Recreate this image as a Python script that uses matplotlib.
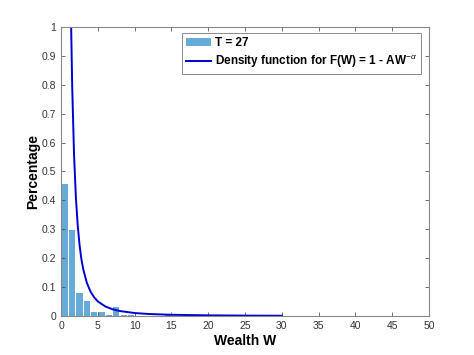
import matplotlib
matplotlib.use("Agg")
import matplotlib.pyplot as plt

plt.rcParams['font.family'] = ['Liberation Sans', 'DejaVu Sans']
plt.rcParams['mathtext.fontset'] = 'custom'
plt.rcParams['mathtext.rm'] = 'Liberation Sans'
plt.rcParams['mathtext.it'] = 'Liberation Sans:italic'

# histogram bins (centre of each bin of width 1) and share of agents
bin_centres = [0.5, 1.5, 2.5, 3.5, 4.5, 5.5, 6.5, 7.5, 8.5, 9.5, 10.5, 14.5, 19.5, 23.5]
bin_share = [0.455, 0.298, 0.079, 0.053, 0.014, 0.013, 0.005, 0.030, 0.004, 0.002,
             0.001, 0.002, 0.002, 0.004]

# density curve
curve_w = [1.36, 1.5, 1.75, 2.0, 2.25, 2.5, 2.75, 3.0, 3.5, 4.0, 4.5, 5.0, 6.0, 7.0,
           8.0, 10.0, 12.0, 15.0, 20.0, 25.0, 30.0]
curve_f = [1.0, 0.798, 0.56, 0.412, 0.314, 0.246, 0.197, 0.162, 0.114, 0.084, 0.064,
           0.050, 0.033, 0.023, 0.017, 0.010, 0.0067, 0.004, 0.0021, 0.0012, 0.0008]

fig = plt.figure(figsize=(4.74, 3.55), dpi=100)
ax = fig.add_axes([0.129, 0.110, 0.776, 0.814])

bars = ax.bar(bin_centres, bin_share, width=0.85, color='#66aad7', edgecolor='none')
line, = ax.plot(curve_w, curve_f, color='#0000d0', lw=1.4)

ax.set_xlim(0, 50)
ax.set_ylim(0, 1)
ax.set_xticks(range(0, 51, 5))
ax.set_yticks([i / 10 for i in range(11)])
ax.set_yticklabels(['0', '0.1', '0.2', '0.3', '0.4', '0.5', '0.6', '0.7', '0.8', '0.9', '1'])
ax.tick_params(direction='in', top=True, right=True, labelsize=7.5,
               colors='#555555', labelcolor='#333333', length=3, width=0.6)
for s in ax.spines.values():
    s.set_color('#888888')
    s.set_linewidth(0.8)

ax.set_xlabel('Wealth W', fontsize=10, fontweight='bold', labelpad=2)
ax.set_ylabel('Percentage', fontsize=10, fontweight='bold', labelpad=1)

leg = ax.legend([bars, line], ['T = 27', r'Density function for F(W) = 1 - AW$^{-\alpha}$'],
                loc='upper right', bbox_to_anchor=(0.978, 0.979), frameon=True,
                fancybox=False, borderaxespad=0.0, handlelength=2.1, handletextpad=0.35,
                borderpad=0.35, labelspacing=0.35,
                prop={'weight': 'bold', 'size': 8.5})
leg.get_frame().set_edgecolor('#555555')
leg.get_frame().set_linewidth(0.6)

fig.savefig('out.png', dpi=100)
